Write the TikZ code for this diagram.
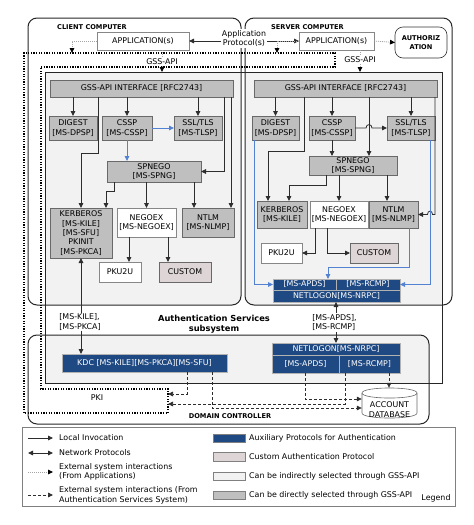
\documentclass[tikz,border=0pt]{standalone}
\usepackage{fontspec}
\setmainfont{DejaVu Sans}
\usetikzlibrary{arrows.meta}
\definecolor{boxgray}{RGB}{191,191,191}
\definecolor{bordgray}{RGB}{105,105,105}
\definecolor{regiongray}{RGB}{242,242,242}
\definecolor{custfill}{RGB}{222,214,214}
\definecolor{dblue}{RGB}{31,73,130}
\definecolor{lblue}{RGB}{84,130,210}
\definecolor{linegray}{RGB}{45,45,45}
\definecolor{dotgray}{RGB}{165,165,165}
\newcommand\fs{\fontsize{7.9}{9.4}\selectfont}
\newcommand\fsb{\fontsize{6.6}{8}\selectfont\bfseries}
\newcommand\fsbig{\fontsize{8.3}{10}\selectfont\bfseries}
\newcommand\mybox[7]{%
  \pgfmathsetmacro\bxw{#5-#3}%
  \pgfmathsetmacro\bxh{#6-#4}%
  \pgfmathsetmacro\bxx{(#3+#5)/2}%
  \pgfmathsetmacro\bxy{(#4+#6)/2}%
  \node[#1, minimum width=\bxw pt, minimum height=\bxh pt] (#2) at (\bxx,\bxy) {#7};%
}
\tikzset{
  boxbase/.style={inner sep=0pt, outer sep=0pt, align=center, font=\fs, line width=0.6pt},
  gbox/.style={boxbase, draw=bordgray, fill=boxgray},
  wbox/.style={boxbase, draw=bordgray!80, fill=white},
  cbox/.style={boxbase, draw=bordgray, fill=custfill},
  bbox/.style={boxbase, draw=gray!60, fill=dblue, text=white},
  conn/.style={draw=linegray, line width=0.8pt, -{Triangle[length=5pt,width=4.6pt]}},
  nconn/.style={draw=linegray, line width=0.8pt, {Triangle[length=5pt,width=4.6pt]}-{Triangle[length=5pt,width=4.6pt]}},
  bconn/.style={draw=lblue, line width=0.8pt, -{Triangle[length=5pt,width=4.6pt]}},
  dconn/.style={draw=dotgray, line width=0.8pt, dash pattern=on 1pt off 1pt, -{Triangle[length=5pt,width=4.6pt,color=black]}},
  xconn/.style={draw=linegray, line width=0.7pt, dash pattern=on 3pt off 2pt, -{Triangle[length=5pt,width=4.6pt]}},
  compframe/.style={draw=black!85, line width=1pt, rounded corners=9pt},
  subsysframe/.style={draw=black!85, line width=0.9pt},
  pkidot/.style={draw=black, line width=1.3pt, dash pattern=on 1.3pt off 1.3pt},
  headtxt/.style={font=\fsb, inner sep=0pt},
  lab/.style={font=\fs, inner sep=1pt, fill=white},
  ltxt/.style={font=\fs, align=left, anchor=west, inner sep=0pt},
  legbox/.style={draw=gray, line width=0.8pt, fill=white, inner sep=0pt},
  swatch/.style={draw=gray, line width=0.6pt, inner sep=0pt},
}
\begin{document}
\begin{tikzpicture}[x=1pt,y=-1pt]
\useasboundingbox (0,0) rectangle (474,525);
% light regions
\begin{scope}
\clip (45,72) rectangle (442,383);
\fill[regiongray, rounded corners=9pt] (28,18) rectangle (241,305);
\fill[regiongray, rounded corners=9pt] (245,18) rectangle (452,305);
\fill[regiongray, rounded corners=9pt] (28,335) rectangle (429,424);
\end{scope}
% frames
\draw[compframe] (28,18) rectangle (241,305);
\draw[compframe] (245,18) rectangle (452,305);
\draw[compframe] (28,335) rectangle (429,424);
\draw[subsysframe] (45,72) rectangle (442,383);
\draw[pkidot] (41,67) -- (335,67) -- (335,53) -- (24,53) -- (24,413) -- (168,413) -- (168,389) -- (41,389) -- cycle;
% headings
\node[headtxt] (clab) at (92,27) {CLIENT COMPUTER};
\node[headtxt] (slab) at (307.5,27) {SERVER COMPUTER};
\node[headtxt] (dclab) at (230,416) {DOMAIN CONTROLLER};
\node[font=\fsbig, align=center, inner sep=0pt] (sslab) at (214,324) {Authentication Services\\subsystem};
\node[font=\fs, inner sep=0pt] (pki) at (97,398) {PKI};
% client boxes
\mybox{wbox}{capp}{97}{32}{189}{50}{APPLICATION(s)}
\mybox{gbox}{cgss}{50}{80}{233}{97}{GSS-API INTERFACE [RFC2743]}
\mybox{gbox}{cdig}{49}{116}{97}{140}{DIGEST\\{}[MS-DPSP]}
\mybox{gbox}{ccssp}{102}{116}{152}{140}{CSSP\\{}[MS-CSSP]}
\mybox{gbox}{cssl}{174}{116}{222}{140}{SSL/TLS\\{}[MS-TLSP]}
\mybox{gbox}{cspn}{107}{161}{201}{182}{SPNEGO\\{}[MS-SPNG]}
\mybox{gbox}{ckerb}{50}{208}{112}{258}{KERBEROS\\{}[MS-KILE]\\{}[MS-SFU]\\PKINIT\\{}[MS-PKCA]}
\mybox{wbox}{cneg}{117}{208}{176}{237}{NEGOEX\\{}[MS-NEGOEX]}
\mybox{gbox}{cntlm}{182}{208}{234}{237}{NTLM\\{}[MS-NLMP]}
\mybox{wbox}{cpku}{99}{262}{141}{282}{PKU2U}
\mybox{cbox}{ccust}{159}{262}{211}{282}{CUSTOM}
\mybox{bbox}{kdc}{62}{354}{227}{372}{KDC [MS-KILE][MS-PKCA][MS-SFU]}
% server boxes
\mybox{wbox}{sapp}{299}{32}{374}{50}{APPLICATION(s)}
\mybox{wbox, rounded corners=8pt, draw=black!80}{auth}{395}{27}{447}{58}{\fsb AUTHORIZ\\\fsb ATION}
\mybox{gbox}{sgss}{254}{80}{437}{97}{GSS-API INTERFACE [RFC2743]}
\mybox{gbox}{sdig}{252}{116}{299}{140}{DIGEST\\{}[MS-DPSP]}
\mybox{gbox}{scssp}{309}{116}{355}{140}{CSSP\\{}[MS-CSSP]}
\mybox{gbox}{sssl}{387}{116}{435}{140}{SSL/TLS\\{}[MS-TLSP]}
\mybox{gbox}{sspn}{309}{156}{397}{175}{SPNEGO\\{}[MS-SPNG]}
\mybox{gbox}{skerb}{257}{201}{307}{228}{KERBEROS\\{}[MS-KILE]}
\mybox{wbox}{sneg}{310}{201}{368}{228}{NEGOEX\\{}[MS-NEGOEX]}
\mybox{gbox}{sntlm}{369}{201}{418}{228}{NTLM\\{}[MS-NLMP]}
\mybox{wbox}{spku}{261}{243}{302}{263}{PKU2U}
\mybox{cbox}{scust}{350}{243}{398}{263}{CUSTOM}
\mybox{bbox}{snapds}{273}{279}{336}{290}{[MS-APDS]}
\mybox{bbox}{snrcmp}{336}{279}{400}{290}{[MS-RCMP]}
\mybox{bbox}{snnrpc}{273}{290}{400}{302}{NETLOGON[MS-NRPC]}
% domain controller boxes
\mybox{bbox}{dnnrpc}{272}{343}{400}{355}{NETLOGON[MS-NRPC]}
\mybox{bbox}{dnapds}{272}{355}{339}{373}{[MS-APDS]}
\mybox{bbox}{dnrcmp}{339}{355}{400}{373}{[MS-RCMP]}
% account database (cylinder)
\filldraw[draw=bordgray, line width=0.6pt, fill=white] (362,393) -- (362,413) .. controls (362,419.7) and (417,419.7) .. (417,413) -- (417,393) .. controls (417,386.3) and (362,386.3) .. (362,393) -- cycle;
\draw[draw=bordgray, line width=0.6pt] (362,393) .. controls (362,399.7) and (417,399.7) .. (417,393);
\node[inner sep=0pt, minimum width=55pt, minimum height=30pt] (db) at (389.5,403) {};
\node[font=\fs, align=center, inner sep=0pt] (dbtxt) at (389.5,409.5) {ACCOUNT\\DATABASE};
% client connectors
\draw[conn] (cgss.south -| cdig) -- (cdig.north);
\draw[conn] (cgss.south -| ccssp) -- (ccssp.north);
\draw[conn] (cgss.south -| cssl) -- (cssl.north);
\coordinate (ck1) at (98,153);
\draw[conn] (cgss.south -| ck1) -- (ck1) -| (ckerb.north);
\coordinate (cs1) at (224,0);
\draw[conn] (cgss.south -| cs1) |- (cspn.east);
\coordinate (cn1) at (231,0);
\draw[conn] (cgss.south -| cn1) -- (cn1 |- cntlm.north);
\draw[bconn] (ccssp.east) -- (cssl.west);
\draw[bconn] (ccssp.south) -- (ccssp.south |- cspn.north);
\coordinate (ck2a) at (114,191);
\coordinate (ck2b) at (106,0);
\draw[conn] (cspn.south -| ck2a) -- (ck2a) -| (ck2b |- ckerb.north);
\draw[conn] (cspn.south -| cneg) -- (cneg.north);
\coordinate (cn2) at (194,0);
\draw[conn] (cspn.south -| cn2) -- (cn2 |- cntlm.north);
\coordinate (cp1) at (129,0);
\draw[conn] (cneg.south -| cp1) -- (cp1 |- cpku.north);
\coordinate (cc1) at (168,0);
\draw[conn] (cneg.south -| cc1) -- (cc1 |- ccust.north);
\draw[nconn] (ckerb.south) -- (ckerb.south |- kdc.north);
% server connectors
\draw[conn] (sgss.south -| sdig) -- (sdig.north);
\draw[conn] (sgss.south -| scssp) -- (scssp.north);
\draw[conn] (sgss.south -| sssl) -- (sssl.north);
\coordinate (sk1) at (304,151);
\coordinate (sk1b) at (268,0);
\draw[conn] (sgss.south -| sk1) -- (sk1) -| (sk1b |- skerb.north);
\coordinate (sp1) at (369,0);
\draw[conn] (sgss.south -| sp1) -- (sp1 |- sspn.north);
\coordinate (sn1) at (435,0);
\draw[conn] (sgss.south -| sn1) -- (sn1 |- sntlm.east) -- ++(-2.5,0) .. controls +(0,-4.5) and +(0,-4.5) .. ++(-5,0) -- (sntlm.east);
\draw[conn] (scssp.east) -- ([xshift=-3pt]sp1 |- scssp.east) .. controls +(0,-4.5) and +(0,-4.5) .. ([xshift=3pt]sp1 |- scssp.east) -- (sssl.west);
\draw[conn] (scssp.south) -- (scssp.south |- sspn.north);
\coordinate (sk2) at (326,185);
\coordinate (sk2b) at (289,0);
\draw[conn] (sspn.south -| sk2) -- (sk2) -| (sk2b |- skerb.north);
\draw[conn] (sspn.south -| sneg) -- (sneg.north);
\coordinate (sn2) at (387,0);
\draw[conn] (sspn.south -| sn2) -- (sn2 |- sntlm.north);
\coordinate (sq1) at (315,0);
\draw[conn] (sneg.south -| sq1) |- (spku.east);
\coordinate (sq2) at (327,0);
\draw[conn] (sneg.south -| sq2) |- (scust.west);
\coordinate (sb1) at (254,0);
\draw[bconn] (sdig.south -| sb1) |- (snapds.west);
\coordinate (sb2) at (409,267);
\coordinate (sb2b) at (328,0);
\draw[bconn] (sntlm.south -| sb2) -- (sb2) -| (sb2b |- snapds.north);
\coordinate (sb3) at (430,0);
\draw[bconn] (sssl.south -| sb3) |- (snrcmp.east);
\coordinate (sx) at (336,0);
\draw[nconn] (sx |- snnrpc.south) -- (sx |- dnnrpc.north);
% application level
\draw[nconn] (capp.east) -- (sapp.west);
\coordinate (cd1) at (72,41);
\coordinate (cd1e) at (72,53);
\draw[dconn] (capp.west) -- (cd1) -- (cd1e);
\coordinate (sd1) at (277,41);
\coordinate (sd1e) at (277,53);
\draw[dconn] (sapp.west) -- (sd1) -- (sd1e);
\coordinate (cg1) at (162,72);
\draw[dconn] (capp.south -| cg1) -- (cg1);
\coordinate (sg1) at (360,72);
\draw[dconn] (sapp.south -| sg1) -- (sg1);
\draw[dconn] (sapp.east) -- (auth.west);
% external interactions from authentication services
\coordinate (pkR) at (168,0);
\coordinate (kd1) at (187,394);
\draw[xconn] (kdc.south -| kd1) -- (kd1) -- (pkR |- kd1);
\coordinate (kd2) at (212,408);
\draw[xconn] (kdc.south -| kd2) -- (kd2) -- (kd2 -| db.west);
\coordinate (nr1) at (345,404);
\draw[xconn] (dnrcmp.south -| nr1) -- (nr1) -- (pkR |- nr1);
\coordinate (na1) at (305,399);
\draw[xconn] (dnapds.south -| na1) -- (na1) -- (na1 -| db.west);
\coordinate (nr2) at (389,0);
\draw[xconn] (dnrcmp.south -| nr2) -- (nr2 |- db.north);
% labels on connectors
\node[lab, align=center] (aplab) at (244,38.5) {Application\\Protocol(s)};
\node[lab] (cgsslab) at (162,61.5) {GSS-API};
\node[lab] (sgsslab) at (360,60) {GSS-API};
\node[lab, align=left] (klab) at (80,322) {[MS-KILE],\\{}[MS-PKCA]};
\node[lab, align=left] (nlab) at (334.5,322.5) {[MS-APDS],\\{}[MS-RCMP]};
% legend
\mybox{legbox}{leg}{22}{427}{455}{506}{}
\coordinate (la1) at (28,438); \coordinate (lb1) at (53,438);
\draw[conn] (la1) -- (lb1);
\node[ltxt] (lt1) at (59,438) {Local Invocation};
\coordinate (la2) at (28,453); \coordinate (lb2) at (53,453);
\draw[nconn] (la2) -- (lb2);
\node[ltxt] (lt2) at (59,453) {Network Protocols};
\coordinate (la3) at (28,472); \coordinate (lb3) at (53,472);
\draw[dconn] (la3) -- (lb3);
\node[ltxt] (lt3) at (59,472) {External system interactions\\(From Applications)};
\coordinate (la4) at (28,495); \coordinate (lb4) at (53,495);
\draw[xconn] (la4) -- (lb4);
\node[ltxt] (lt4) at (59,495.5) {External system interactions (From\\Authentication Services System)};
\mybox{swatch, fill=dblue}{sw1}{213}{434}{245}{442}{}
\mybox{swatch, fill=custfill}{sw2}{213}{452}{245}{461}{}
\mybox{swatch, fill=regiongray}{sw3}{213}{472}{245}{480}{}
\mybox{swatch, fill=boxgray}{sw4}{213}{491}{245}{499}{}
\node[ltxt] (rt1) at (249,438) {Auxiliary Protocols for Authentication};
\node[ltxt] (rt2) at (249,457) {Custom Authentication Protocol};
\node[ltxt] (rt3) at (249,476) {Can be indirectly selected through GSS-API};
\node[ltxt] (rt4) at (249,495) {Can be directly selected through GSS-API};
\node[font=\fs, inner sep=0pt] (legt) at (436,498) {Legend};
\end{tikzpicture}
\end{document}
